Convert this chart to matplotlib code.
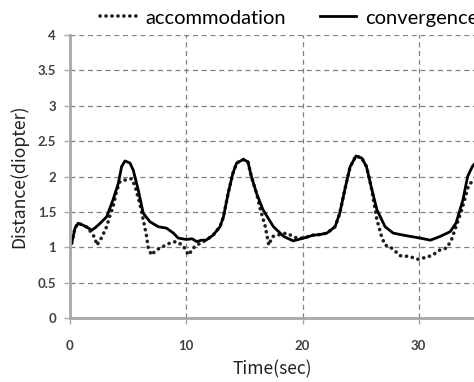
import matplotlib
matplotlib.use('Agg')
import matplotlib.pyplot as plt

# convergence (solid)
t_conv = [0.15, 0.43, 0.7, 1.15, 1.5, 1.87, 2.2, 2.6, 3.15, 3.7, 4.15, 4.44, 4.73, 5.16, 5.44,
          5.87, 6.3, 6.88, 7.6, 8.3, 8.9, 9.3, 10.0, 10.5, 10.9, 11.3, 11.7, 12.3, 12.9, 13.2,
          13.6, 14.0, 14.33, 14.9, 15.3, 15.6, 16.05, 16.6, 17.5, 18.4, 19.2, 20.1, 20.9, 21.5,
          22.1, 22.8, 23.2, 23.7, 24.1, 24.6, 25.1, 25.5, 25.9, 26.4, 27.1, 27.8, 28.7, 29.4,
          30.1, 31.0, 31.8, 32.7, 33.2, 33.8, 34.2, 34.6, 34.8]
conv = [1.06, 1.27, 1.34, 1.31, 1.28, 1.24, 1.28, 1.34, 1.43, 1.67, 1.90, 2.14, 2.22, 2.19, 2.09,
        1.81, 1.48, 1.36, 1.29, 1.27, 1.20, 1.13, 1.11, 1.12, 1.08, 1.10, 1.10, 1.17, 1.29, 1.43,
        1.76, 2.04, 2.19, 2.24, 2.21, 2.00, 1.76, 1.53, 1.29, 1.15, 1.09, 1.13, 1.17, 1.18,
        1.20, 1.29, 1.48, 1.86, 2.14, 2.29, 2.26, 2.14, 1.86, 1.53, 1.29, 1.20, 1.17, 1.15,
        1.13, 1.10, 1.15, 1.22, 1.34, 1.67, 2.00, 2.14, 2.18]

# accommodation (dotted)
t_acc = [0.15, 0.43, 0.7, 1.15, 1.5, 1.87, 2.15, 2.3, 2.6, 2.9, 3.15, 3.4, 3.7, 4.0, 4.3, 4.73,
         5.3, 5.6, 6.0, 6.3, 6.6, 6.7, 7.0, 7.4, 8.0, 8.6, 9.1, 9.7, 10.2, 10.6, 11.2, 11.7,
         12.3, 12.9, 13.2, 13.6, 14.0, 14.33, 14.9, 15.3, 15.6, 16.05, 16.35, 16.8, 17.1, 17.4,
         17.8, 18.6, 19.5, 20.1, 20.9, 21.5, 22.1, 22.8, 23.2, 23.7, 24.1, 24.6, 25.1, 25.5,
         25.9, 26.4, 26.8, 27.1, 27.5, 28.0, 28.4, 29.2, 29.9, 30.7, 31.2, 31.8, 32.4, 32.8,
         33.2, 33.7, 34.0, 34.3, 34.6, 34.8]
acc = [1.06, 1.27, 1.34, 1.31, 1.28, 1.20, 1.13, 1.03, 1.10, 1.20, 1.29, 1.43, 1.57, 1.79, 1.93, 1.95,
       1.97, 1.86, 1.62, 1.39, 1.15, 1.01, 0.89, 0.96, 1.01, 1.06, 1.08, 1.03, 0.89, 0.99, 1.06, 1.10,
       1.17, 1.29, 1.43, 1.76, 2.04, 2.19, 2.24, 2.21, 2.00, 1.76, 1.55, 1.29, 1.03, 1.15,
       1.17, 1.20, 1.13, 1.13, 1.17, 1.18, 1.20, 1.29, 1.48, 1.86, 2.14, 2.29, 2.26, 2.14,
       1.86, 1.39, 1.15, 1.03, 1.01, 0.94, 0.88, 0.87, 0.83, 0.86, 0.89, 0.96, 0.99, 1.10,
       1.29, 1.53, 1.71, 1.88, 1.93, 1.96]

yticks = [0, 0.5, 1, 1.5, 2, 2.5, 3, 3.5, 4]
xticks = [0, 10, 20, 30]

W, H = 474, 382
fig = plt.figure(figsize=(W / 100, H / 100), dpi=100)
left, bottom, top = 70 / W, 1 - 318 / H, 1 - 35 / H
ax = fig.add_axes([left, bottom, 1 - left, top - bottom])

ax.plot(t_acc, acc, linestyle=(0, (0.05, 1.6)), dash_capstyle='round', color='#202020', lw=2.6,
        label='accommodation')
ax.plot(t_conv, conv, '-', color='black', lw=2.0, label='convergence')

ax.set_xlim(0, 34.75)
ax.set_ylim(0, 4)
ax.set_xticks(xticks)
ax.set_yticks(yticks)
ax.set_yticklabels([f'{v:g}' for v in yticks])
ax.grid(True, linestyle=(0, (4, 3)), color='#808080', lw=0.9)
ax.set_axisbelow(True)
for s in ['top', 'right']:
    ax.spines[s].set_visible(False)
for s in ['left', 'bottom']:
    ax.spines[s].set_color('#a8a8a8')
    ax.spines[s].set_linewidth(2)
ax.tick_params(axis='both', colors='#a8a8a8', length=4, width=1)
ax.tick_params(axis='x', pad=12)
ax.tick_params(axis='y', pad=6)
for lab in ax.get_xticklabels() + ax.get_yticklabels():
    lab.set_color('#404040')
    lab.set_fontweight('bold')
    lab.set_fontsize(9.5)
    lab.set_family('Lato')

ax.set_xlabel('Time(sec)', family='Noto Sans CJK JP', fontsize=12.5, color='#202020', labelpad=6)
ax.set_ylabel('Distance(diopter)', family='Noto Sans CJK JP', fontsize=12.7, color='#202020', labelpad=7)

fig.legend(loc='center left', bbox_to_anchor=(90 / W, 1 - 18 / H), ncol=2, frameon=False,
           borderpad=0, handlelength=1.8, handletextpad=0.45, columnspacing=1.7,
           prop={'family': 'Lato', 'size': 14.5})

fig.savefig('out.png', dpi=100)
